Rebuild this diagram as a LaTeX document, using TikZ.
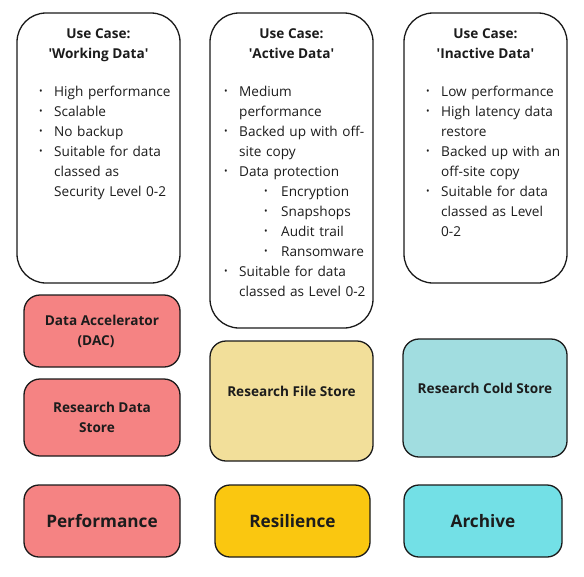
\documentclass[tikz,border=0pt]{standalone}
\usepackage{fontspec}
\setmainfont{Open Sans}
\usepackage{enumitem}

\definecolor{linecol}{HTML}{1A1A1A}
\definecolor{txtcol}{HTML}{1C1C1C}
\definecolor{perfred}{HTML}{F58383}
\definecolor{resilyellow}{HTML}{FAC710}
\definecolor{archcyan}{HTML}{73E0E6}
\definecolor{filebeige}{HTML}{F2DF9A}
\definecolor{coldteal}{HTML}{A1DDE0}

% Bullet lists inside the use case boxes
\newcommand{\ucdot}{\raisebox{2.2pt}{\fontsize{9.5}{9.5}\selectfont\textbullet}}
\setlist[itemize,1]{label=\ucdot, leftmargin=15pt, labelwidth=4pt, labelsep=11pt,
  align=left, topsep=0pt, partopsep=0pt, itemsep=0pt, parsep=0pt}
\setlist[itemize,2]{label=\ucdot, leftmargin=42pt, labelwidth=4pt, labelsep=13pt,
  align=left, topsep=0pt, partopsep=0pt, itemsep=0pt, parsep=0pt}

\tikzset{
  usecase/.style={draw=linecol, line width=1.3pt, rounded corners=29pt, fill=white,
    minimum width=163pt, inner sep=0pt},
  heading/.style={font=\bfseries\fontsize{13.6}{20}\selectfont, align=center,
    inner sep=0pt, text=txtcol},
  bullets/.style={anchor=north west, text width=150pt, align=left, inner sep=0pt,
    font=\fontsize{13.6}{20}\selectfont, text=txtcol},
  store/.style={draw=linecol, line width=1.3pt, rounded corners=16pt, inner sep=0pt,
    align=center, text=txtcol, font=\bfseries\fontsize{13.6}{20}\selectfont},
  storetext/.style={inner sep=0pt, text=txtcol, font=\bfseries\fontsize{13.6}{20}\selectfont},
  tier/.style={store, rounded corners=15pt, minimum height=72pt,
    font=\bfseries\fontsize{17.2}{20}\selectfont}
}

\begin{document}
\begin{tikzpicture}[x=1pt, y=-1pt]
\useasboundingbox (0,0) rectangle (584,576);

    % Use case boxes
    \node[usecase, minimum height=270pt] (working) at (98.5,148) {};
    \node[usecase, minimum height=315pt] (active) at (291.5,170.5) {};
    \node[usecase, minimum height=270pt] (inactive) at (485.5,148) {};

    % Headings
    \node[heading, anchor=north] (workinghd) at (98.5,28.3)
        {Use Case:\\\textquotesingle Working Data\textquotesingle};
    \node[heading, anchor=north] (activehd) at (291.5,28.3)
        {Use Case:\\\textquotesingle Active Data\textquotesingle};
    \node[heading, anchor=north] (inactivehd) at (485.5,28.3)
        {Use Case:\\\textquotesingle Inactive Data\textquotesingle};

    % What each use case offers
    \node[bullets] (workinglist) at (39,76.5) {%
        \begin{itemize}
        \item High performance
        \item Scalable
        \item No backup
        \item Suitable for data\newline classed as\newline Security Level 0-2
        \end{itemize}};
    \node[bullets] (activelist) at (224,76.5) {%
        \begin{itemize}
        \item Medium\newline performance
        \item Backed up with off-\newline site copy
        \item Data protection
            \begin{itemize}
            \item Encryption
            \item Snapshops
            \item Audit trail
            \item Ransomware
            \end{itemize}
        \item Suitable for data\newline classed as Level 0-2
        \end{itemize}};
    \node[bullets] (inactivelist) at (426,76.5) {%
        \begin{itemize}
        \item Low performance
        \item High latency data\newline restore
        \item Backed up with an\newline off-site copy
        \item Suitable for data\newline classed as Level\newline 0-2
        \end{itemize}};

    % Storage services
    \node[store, fill=perfred, minimum width=156pt, minimum height=72pt] (dac) at (102,331)
        {Data Accelerator\\(DAC)\hspace*{12pt}};
    \node[store, fill=perfred, minimum width=156pt, minimum height=77pt] (rds) at (102,417.5)
        {Research Data\\Store\hspace*{10pt}};
    \node[store, fill=filebeige, minimum width=163pt, minimum height=120pt] (rfs) at (291.5,401) {};
    \node[storetext] (rfstxt) at (291.5,391) {Research File Store};
    \node[store, fill=coldteal, minimum width=164pt, minimum height=118pt] (rcs) at (485,398) {};
    \node[storetext] (rcstxt) at (485,388) {Research Cold Store};

    % Service tiers
    \node[tier, fill=perfred, minimum width=156pt] (perf) at (102,521) {Performance};
    \node[tier, fill=resilyellow, minimum width=155pt] (resil) at (292.5,521) {Resilience};
    \node[tier, fill=archcyan, minimum width=158pt] (arch) at (483,521) {Archive};
\end{tikzpicture}
\end{document}
